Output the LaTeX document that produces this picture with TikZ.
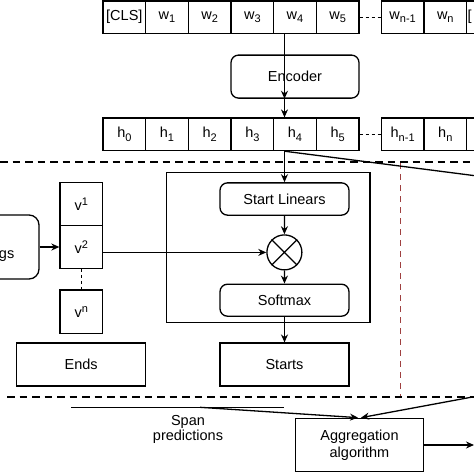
\documentclass[tikz,border=0pt]{standalone}
\usepackage{fontspec}
\setmainfont{Liberation Sans}
\usetikzlibrary{arrows.meta}
\newcommand{\mysub}[1]{\raisebox{-3.2pt}{\fontsize{11}{11}\selectfont #1}}
\newcommand{\mysup}[1]{\raisebox{5pt}{\fontsize{11}{11}\selectfont #1}}
\begin{document}
\begin{tikzpicture}[x=1pt,y=-1pt,
  font=\fontsize{14.5}{16.5}\selectfont,
  every node/.style={inner sep=0pt},
  cell/.style={draw, line width=1.3pt, minimum width=42.67pt, minimum height=32.5pt},
  rbox/.style={draw, line width=1.3pt, rounded corners=7.5pt},
  sbox/.style={draw, line width=1.3pt},
  conn/.style={line width=1.3pt},
  arr/.style={conn, -{Stealth[length=8pt,width=7pt]}},
  sepline/.style={line width=2pt, dash pattern=on 7.5pt off 5pt},
  shortdash/.style={line width=1.3pt, dash pattern=on 3pt off 3pt},
  reddash/.style={line width=1.4pt, draw=red!50!black!75, dash pattern=on 6pt off 5pt}]
\useasboundingbox (0,0) rectangle (474,474);
\clip (0,0) rectangle (474,474);

% token row
\node[cell] (cls) at (124.35,17.2) {[CLS]};
\node[cell] (w1) at (167.0,17.2) {w\mysub{1}};
\node[cell] (w2) at (209.7,17.2) {w\mysub{2}};
\node[cell] (w3) at (252.35,17.2) {w\mysub{3}};
\node[cell] (w4) at (295.0,17.2) {w\mysub{4}};
\node[cell] (w5) at (337.7,17.2) {w\mysub{5}};
\node[cell] (wn1) at (402.65,17.2) {w\mysub{n-1}};
\node[cell] (wn) at (445.3,17.2) {w\mysub{n}};
\node[cell] (wsep) at (488.0,17.2) {};
\node[anchor=west] (wsept) at (467.5,17.2) {[};
\draw[shortdash] (w5.east) -- (wn1.west);

% encoder
\node[rbox, minimum width=128pt, minimum height=43pt] (enc) at (295,76.6) {Encoder};

% hidden row
\node[cell] (h0) at (124.35,134.3) {h\mysub{0}};
\node[cell] (h1) at (167.0,134.3) {h\mysub{1}};
\node[cell] (h2) at (209.7,134.3) {h\mysub{2}};
\node[cell] (h3) at (252.35,134.3) {h\mysub{3}};
\node[cell] (h4) at (295.0,134.3) {h\mysub{4}};
\node[cell] (h5) at (337.7,134.3) {h\mysub{5}};
\node[cell] (hn1) at (402.65,134.3) {h\mysub{n-1}};
\node[cell] (hn) at (445.3,134.3) {h\mysub{n}};
\node[cell] (hsep) at (488.0,134.3) {};
\draw[shortdash] (h5.east) -- (hn1.west);

% separators
\coordinate (s1a) at (0,162);
\coordinate (s1b) at (474,162);
\coordinate (s2a) at (7,396.7);
\coordinate (s2b) at (474,396.7);
\draw[sepline] (s1a) -- (s1b);
\draw[sepline] (s2a) -- (s2b);
\coordinate (r1) at (400.7,163);
\coordinate (r2) at (400.7,396);
\draw[reddash] (r1) -- (r2);

% start module
\node[sbox, minimum width=203.3pt, minimum height=150pt] (outer) at (268.35,247.3) {};
\node[rbox, minimum width=129pt, minimum height=32.3pt] (sl) at (284.5,199) {Start Linears};
\node[draw, circle, line width=1.3pt, minimum size=35pt] (mul) at (284.4,252.4) {};
\draw[line width=1.3pt] (mul.north west) -- (mul.south east) (mul.north east) -- (mul.south west);
\node[rbox, minimum width=129pt, minimum height=32pt] (sm) at (284.5,300.2) {Softmax};
\node[sbox, minimum width=129pt, minimum height=43pt] (starts) at (284.5,364.6) {Starts};
\node[sbox, minimum width=129pt, minimum height=43pt] (ends) at (81.2,364.6) {Ends};

% v column
\node[sbox, minimum width=42.7pt, minimum height=43pt] (v1) at (81.35,204.2) {v\mysup{1}};
\node[sbox, minimum width=42.7pt, minimum height=42.6pt] (v2) at (81.35,247) {v\mysup{2}};
\node[sbox, minimum width=42.7pt, minimum height=43.3pt] (vn) at (81.35,311.7) {v\mysup{n}};
\draw[shortdash] (v2.south) -- (vn.north);

% embeddings box (cut off)
\node[rbox, minimum width=100pt, minimum height=64pt, rounded corners=10pt] (emb) at (-11,247) {};
\node[anchor=base east] (embt) at (14.5,258) {gs};

% arrows
\draw[arr] (w4.south -| sl.north) -- (enc.south -| sl.north |- enc.north);
\draw[arr] (enc.south -| sl.north) -- (h4.north -| sl.north);
\draw[arr] (h4.south -| sl.north) -- (sl.north);
\coordinate (diagend) at (520,181.5);
\draw[conn] (h4.south -| sl.north) -- (diagend);
\draw[arr] (sl.south) -- (mul.north);
\draw[arr] (mul.south) -- (sm.north);
\draw[arr] (sm.south) -- (starts.north);
\draw[arr] (emb.east) -- (v2.west);
\draw[arr] (v2.east |- mul.west) -- (mul.west);

% bottom
\node[sbox, minimum width=127.6pt, minimum height=53.4pt, align=center] (agg) at (359.5,445) {Aggregation\\algorithm};
\node[align=center, font=\fontsize{14.5}{15.5}\selectfont] (spt) at (188,429.5) {Span\\predictions};
\coordinate (sp1) at (71,407.3);
\coordinate (sp2) at (284,407.3);
\coordinate (sp3) at (200,407.3);
\coordinate (rin) at (474,396.7);
\coordinate (aout) at (474,445);
\draw[conn] (sp1) -- (sp2);
\draw[arr] (sp3) -- ([xshift=-1.5pt]agg.north);
\draw[arr] (rin) -- ([xshift=1.5pt]agg.north);
\draw[arr] (agg.east) -- (aout);
\end{tikzpicture}
\end{document}
